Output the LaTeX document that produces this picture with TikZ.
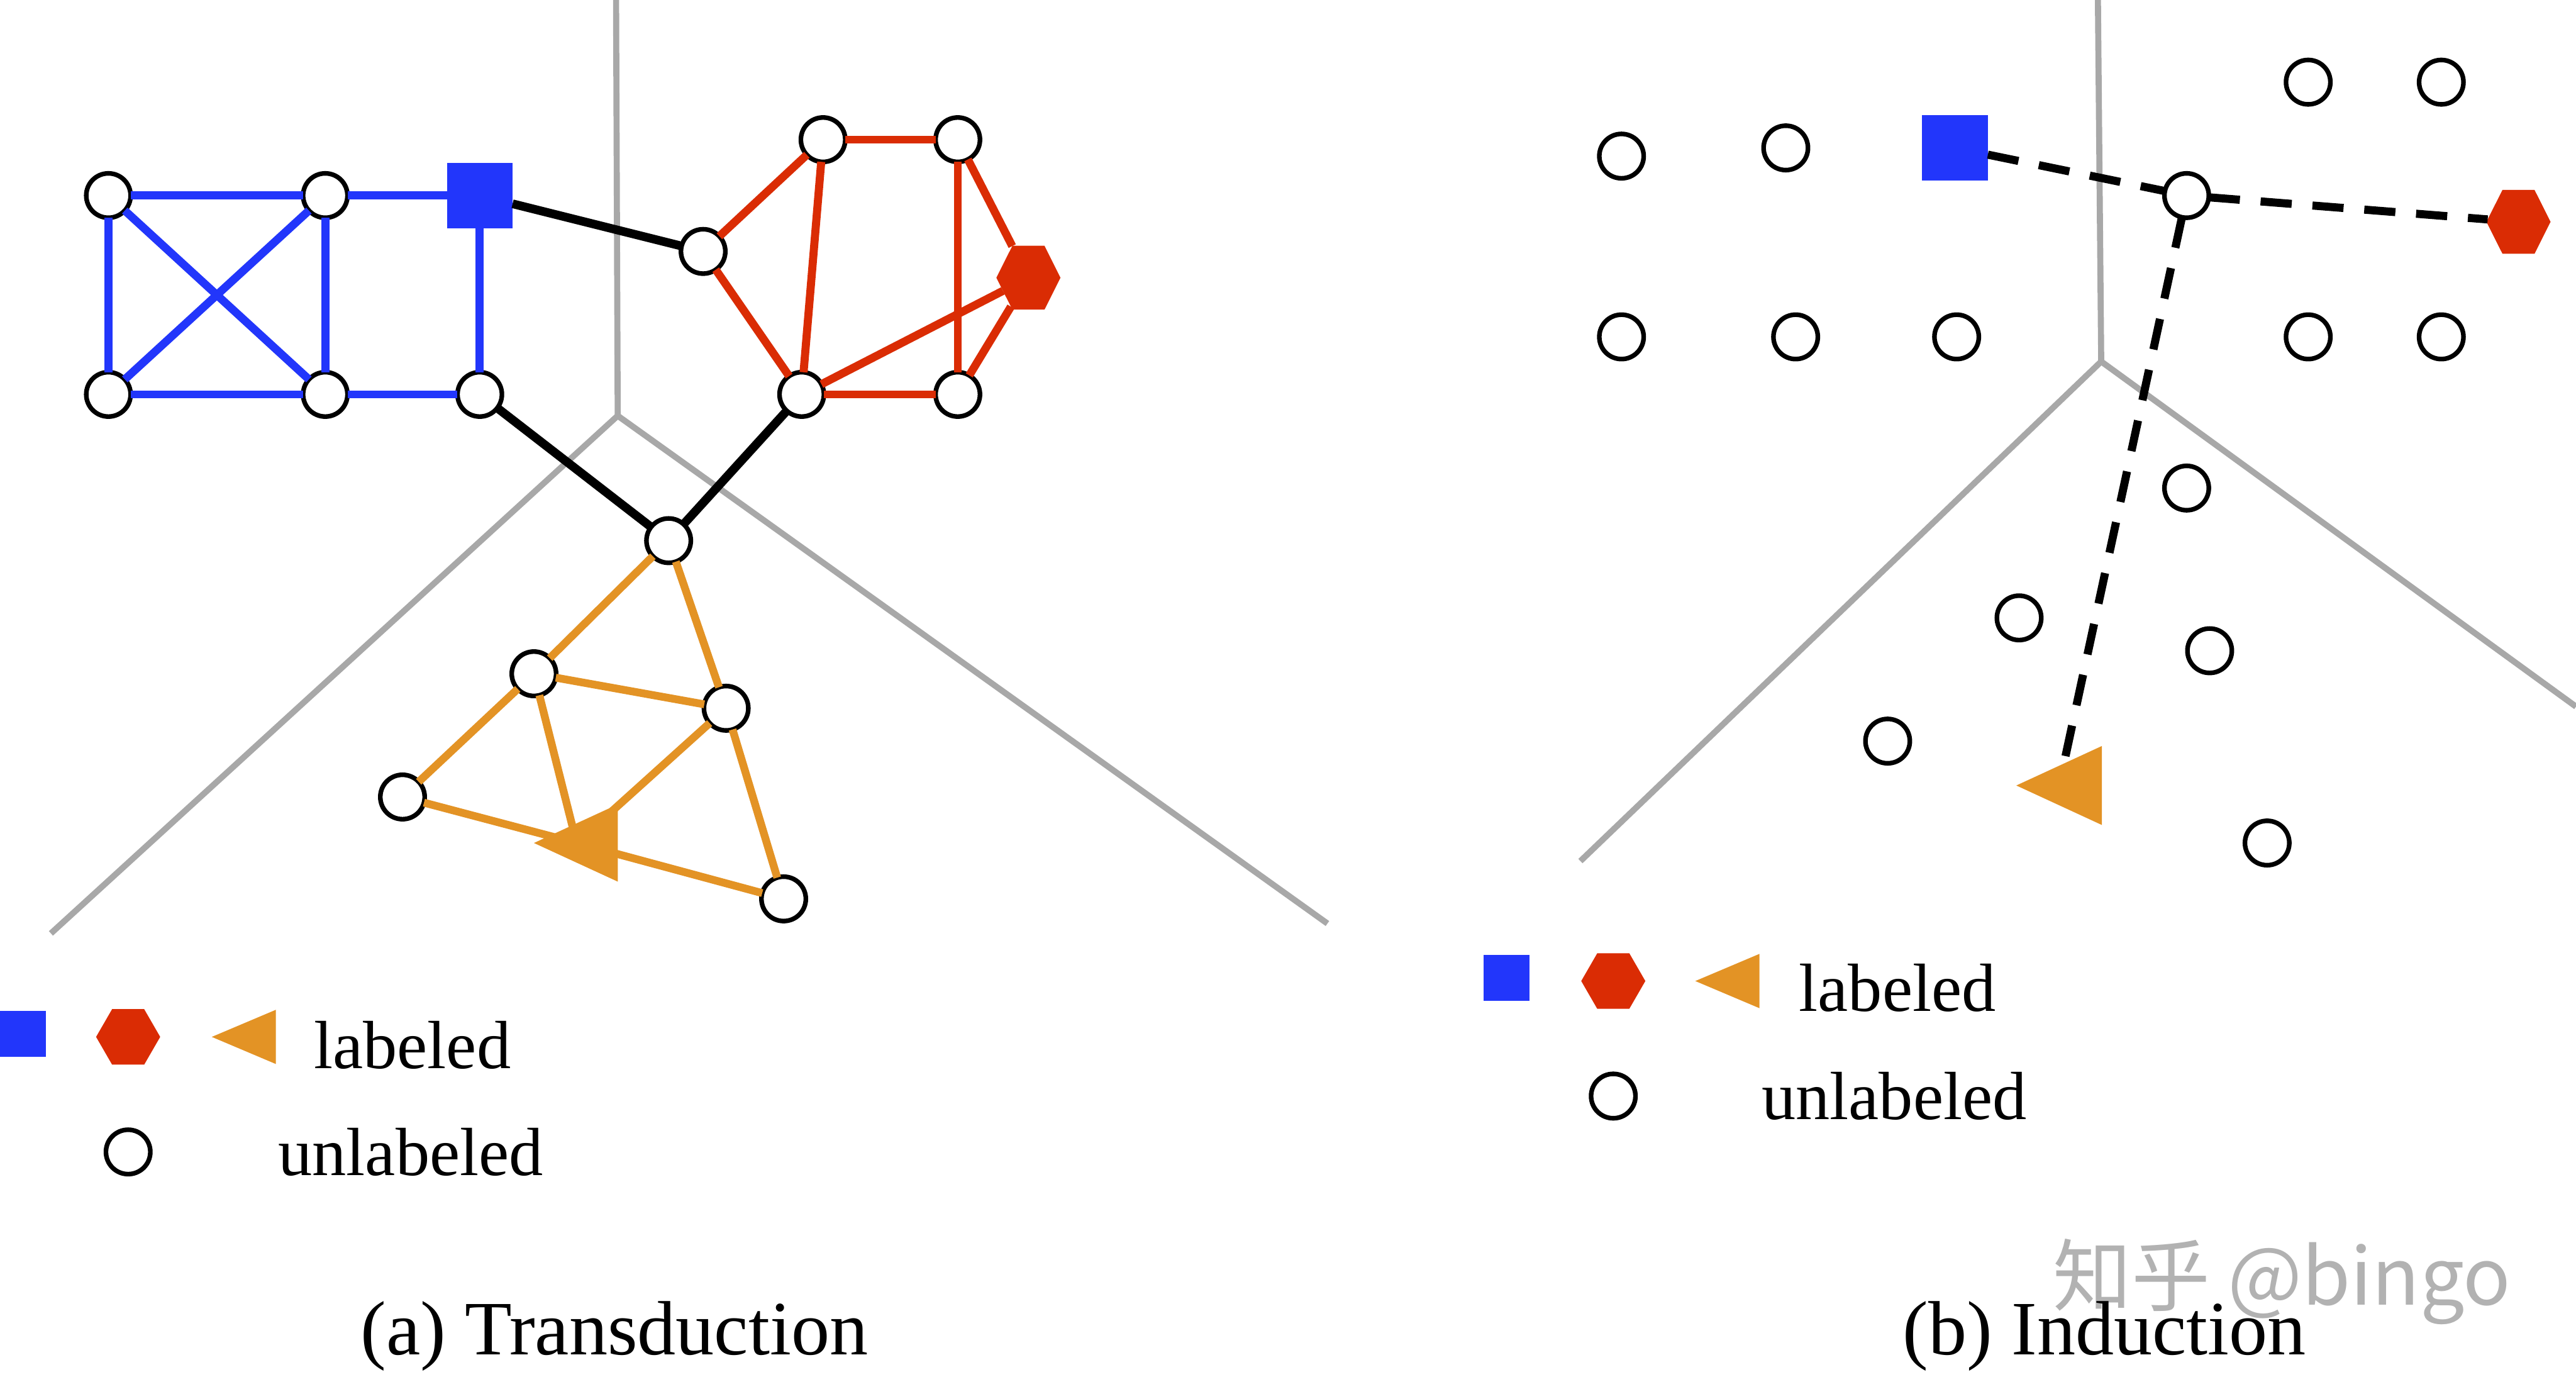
\documentclass[tikz,border=0pt]{standalone}
\usepackage{fontspec}
\usepackage{tikz}
\usetikzlibrary{shapes.geometric}
\setmainfont{Liberation Serif}
\newfontfamily\markfont{Noto Sans CJK SC}
\definecolor{myblue}{HTML}{2236FB}
\definecolor{myred}{HTML}{DA2C04}
\definecolor{myorange}{HTML}{E39325}
\definecolor{mygray}{HTML}{A8A8A8}
\tikzset{
	opennode/.style={circle,draw=black,fill=white,line width=0.8pt,minimum size=0.27cm,inner sep=0pt,outer sep=0pt},
	squarenode/.style={rectangle,fill=myblue,minimum size=#1,inner sep=0pt,outer sep=0pt},
	hexnode/.style={regular polygon,regular polygon sides=6,fill=myred,minimum size=0.39cm,inner sep=0pt,outer sep=0pt},
	trinode/.style={isosceles triangle,isosceles triangle stretches,shape border rotate=180,fill=myorange,inner sep=0pt,outer sep=0pt},
	bluelink/.style={myblue,line width=1.4pt},
	redlink/.style={myred,line width=1.4pt},
	orangelink/.style={myorange,line width=1.35pt},
	blacklink/.style={black,line width=1.5pt},
	dashlink/.style={black,line width=1.4pt,dash pattern=on 5.4pt off 3.6pt},
	border/.style={mygray,line width=1.05pt},
	legendtext/.style={font=\fontsize{11.8}{14}\selectfont},
	captiontext/.style={font=\fontsize{13.3}{16}\selectfont}
}
\begin{document}
\begin{tikzpicture}[x=0.01cm,y=-0.01cm]
	\useasboundingbox (0,0) rectangle (1568,848);
	\coordinate (atop) at (375,0);
	\coordinate (amid) at (376,253);
	\coordinate (aleft) at (31,568);
	\coordinate (aright) at (808,562);
	\coordinate (btop) at (1277,0);
	\coordinate (bmid) at (1279,220);
	\coordinate (bleft) at (962,524);
	\coordinate (bright) at (1568,430);
	\coordinate (aaim) at (351,513);
	\coordinate (baim) at (1256,466);
	\draw[border] (atop) -- (amid) -- (aleft);
	\draw[border] (amid) -- (aright);
	\draw[border] (btop) -- (bmid) -- (bleft);
	\draw[border] (bmid) -- (bright);

	\node[squarenode=0.4cm] (asquare) at (292,119) {};
	\node[hexnode,transform shape,yscale=1.15] (ahex) at (626,169) {};
	\node[trinode,minimum width=0.47cm,minimum height=0.51cm] (atri) at (361,513) {};
	\node[opennode] (b1) at (66,119) {};
	\node[opennode] (b2) at (198,119) {};
	\node[opennode] (b3) at (66,240) {};
	\node[opennode] (b4) at (198,240) {};
	\node[opennode] (b5) at (292,240) {};
	\node[opennode] (r1) at (428,153) {};
	\node[opennode] (r2) at (501,85) {};
	\node[opennode] (r3) at (583,85) {};
	\node[opennode] (r4) at (488,240) {};
	\node[opennode] (r5) at (583,240) {};
	\node[opennode] (mid) at (407,329) {};
	\node[opennode] (o1) at (325,410) {};
	\node[opennode] (o2) at (442,431) {};
	\node[opennode] (o3) at (245,485) {};
	\node[opennode] (o4) at (477,547) {};

	\draw[bluelink] (b1) -- (b2);
	\draw[bluelink] (b2) -- (asquare);
	\draw[bluelink] (b1) -- (b3);
	\draw[bluelink] (b2) -- (b4);
	\draw[bluelink] (asquare) -- (b5);
	\draw[bluelink] (b1) -- (b4);
	\draw[bluelink] (b2) -- (b3);
	\draw[bluelink] (b3) -- (b4);
	\draw[bluelink] (b4) -- (b5);

	\draw[redlink] (r1) -- (r2);
	\draw[redlink] (r1) -- (r4);
	\draw[redlink] (r2) -- (r4);
	\draw[redlink] (r2) -- (r3);
	\draw[redlink] (r3) -- (r5);
	\draw[redlink] (r3) -- (ahex);
	\draw[redlink] (r4) -- (r5);
	\draw[redlink] (r4) -- (ahex);
	\draw[redlink] (ahex) -- (r5);

	\draw[blacklink] (asquare) -- (r1);
	\draw[blacklink] (b5) -- (mid);
	\draw[blacklink] (r4) -- (mid);

	\draw[orangelink] (mid) -- (o1);
	\draw[orangelink] (mid) -- (o2);
	\draw[orangelink] (o1) -- (o2);
	\draw[orangelink] (o3) -- (o1);
	\draw[orangelink] (o1) -- (aaim);
	\draw[orangelink] (o2) -- (aaim);
	\draw[orangelink] (o2) -- (o4);
	\draw[orangelink] (o3) -- (aaim);
	\draw[orangelink] (aaim) -- (o4);

	\node[squarenode=0.28cm] (alegsquare) at (14,629) {};
	\node[hexnode] (aleghex) at (78,631) {};
	\node[trinode,minimum width=0.33cm,minimum height=0.39cm] (alegtri) at (157,631) {};
	\node[opennode] (alegopen) at (78,701) {};
	\node[legendtext] (alabeled) at (251,636) {labeled};
	\node[legendtext] (aunlabeled) at (250,701) {unlabeled};

	\node[squarenode=0.4cm] (bsquare) at (1190,90) {};
	\node[hexnode,transform shape,yscale=1.15] (bhex) at (1533,135) {};
	\node[trinode,minimum width=0.48cm,minimum height=0.52cm] (btri) at (1264,478) {};
	\node[opennode] (n1) at (987,95) {};
	\node[opennode] (n2) at (1087,90) {};
	\node[opennode] (n3) at (1405,50) {};
	\node[opennode] (n4) at (1486,50) {};
	\node[opennode] (center) at (1331,119) {};
	\node[opennode] (n5) at (987,205) {};
	\node[opennode] (n6) at (1093,205) {};
	\node[opennode] (n7) at (1191,205) {};
	\node[opennode] (n8) at (1405,205) {};
	\node[opennode] (n9) at (1486,205) {};
	\node[opennode] (n10) at (1331,297) {};
	\node[opennode] (n11) at (1229,376) {};
	\node[opennode] (n12) at (1345,396) {};
	\node[opennode] (n13) at (1149,451) {};
	\node[opennode] (n14) at (1380,513) {};

	\draw[dashlink] (bsquare) -- (center);
	\draw[dashlink] (center) -- (bhex);
	\draw[dashlink] (center) -- (baim);

	\node[squarenode=0.28cm] (blegsquare) at (917,595) {};
	\node[hexnode] (bleghex) at (982,597) {};
	\node[trinode,minimum width=0.33cm,minimum height=0.39cm] (blegtri) at (1060,597) {};
	\node[opennode] (blegopen) at (982,667) {};
	\node[legendtext] (blabeled) at (1155,601) {labeled};
	\node[legendtext] (bunlabeled) at (1153,667) {unlabeled};

	\node[text=black!30,font=\fontsize{13.6}{16}\selectfont] (mark) at (1389,780) {{\markfont 知乎 @bingo}};
	\node[captiontext] (acaption) at (374,813) {(a) Transduction};
	\node[captiontext] (bcaption) at (1281,813) {(b) Induction};
\end{tikzpicture}
\end{document}
